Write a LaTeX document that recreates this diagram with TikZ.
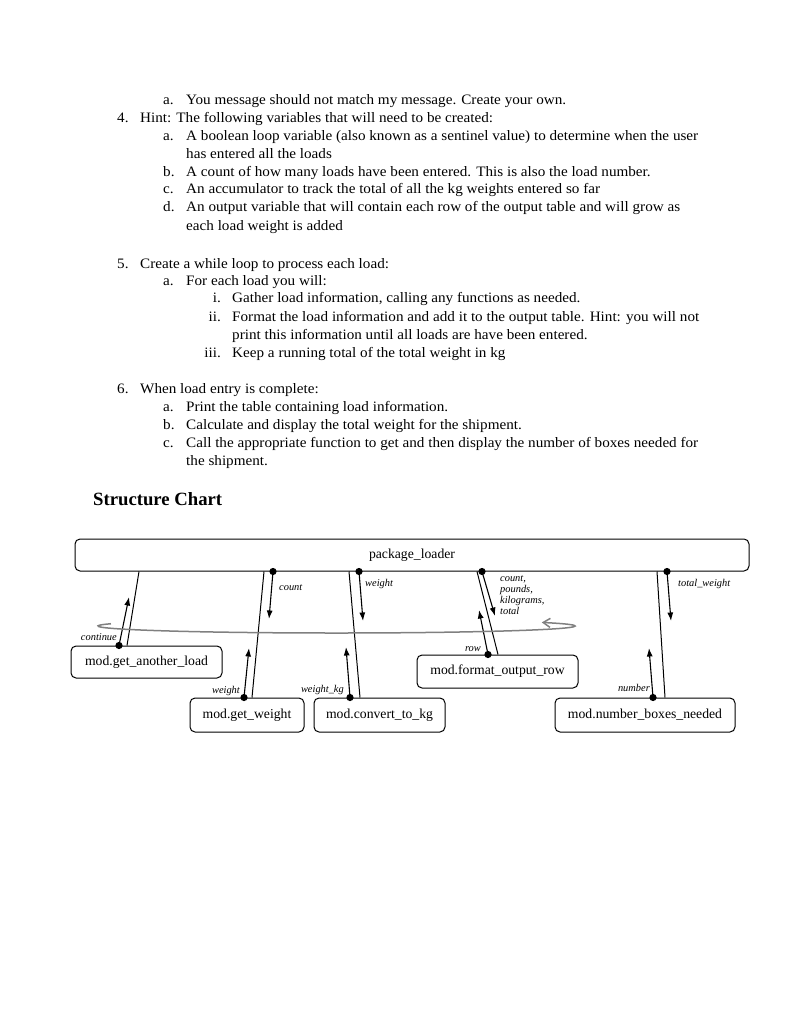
\documentclass[tikz,border=0pt]{standalone}
\usepackage{fontspec}
\setmainfont{Liberation Serif}
\newfontfamily\bodyfont{Liberation Serif}[FakeStretch=1.053]
\usetikzlibrary{arrows.meta}
\begin{document}
\begin{tikzpicture}[x=1pt,y=-1pt,
  txt/.style={anchor=base west, inner sep=0pt, font=\bodyfont\fontsize{14.4}{17}\selectfont},
  rnum/.style={anchor=base east, inner sep=0pt, font=\bodyfont\fontsize{14.4}{17}\selectfont},
  module/.style={draw, line width=1pt, rounded corners=5pt, inner sep=0pt, font=\fontsize{13.7}{16}\selectfont},
  conn/.style={line width=1pt},
  flow/.style={line width=1.1pt, -{Latex[length=8.5pt,width=6pt]}},
  lab/.style={inner sep=0pt, font=\itshape\fontsize{10.4}{11}\selectfont},
  dotc/.style={fill=black}
]
\useasboundingbox[fill=white] (0,0) rectangle (791,1024);

% ---------- text ----------
\node[txt] (a0) at (163,105) {a.};
\node[txt] (a0t) at (186,105) {You message should not match my message. Create your own.};
\node[txt] (n4) at (117,123) {4.};
\node[txt] (n4t) at (140,123) {Hint: The following variables that will need to be created:};
\node[txt] (a4) at (163,141) {a.};
\node[txt] (a4t) at (186,141) {A boolean loop variable (also known as a sentinel value) to determine when the user};
\node[txt] (a4u) at (186,159) {has entered all the loads};
\node[txt] (b4) at (163,177) {b.};
\node[txt] (b4t) at (186,177) {A count of how many loads have been entered. This is also the load number.};
\node[txt] (c4) at (163,194) {c.};
\node[txt] (c4t) at (186,194) {An accumulator to track the total of all the kg weights entered so far};
\node[txt] (d4) at (163,212) {d.};
\node[txt] (d4t) at (186,212) {An output variable that will contain each row of the output table and will grow as};
\node[txt] (d4u) at (186,230) {each load weight is added};

\node[txt] (n5) at (117,268) {5.};
\node[txt] (n5t) at (140,268) {Create a while loop to process each load:};
\node[txt] (a5) at (163,285) {a.};
\node[txt] (a5t) at (186,285) {For each load you will:};
\node[rnum] (i5) at (221,302) {i.};
\node[txt] (i5t) at (232,302) {Gather load information, calling any functions as needed.};
\node[rnum] (ii5) at (221,321) {ii.};
\node[txt] (ii5t) at (232,321) {Format the load information and add it to the output table. Hint: you will not};
\node[txt] (ii5u) at (232,339) {print this information until all loads are have been entered.};
\node[rnum] (iii5) at (221,357) {iii.};
\node[txt] (iii5t) at (232,357) {Keep a running total of the total weight in kg};

\node[txt] (n6) at (117,393) {6.};
\node[txt] (n6t) at (140,393) {When load entry is complete:};
\node[txt] (a6) at (163,411) {a.};
\node[txt] (a6t) at (186,411) {Print the table containing load information.};
\node[txt] (b6) at (163,429) {b.};
\node[txt] (b6t) at (186,429) {Calculate and display the total weight for the shipment.};
\node[txt] (c6) at (163,447) {c.};
\node[txt] (c6t) at (186,447) {Call the appropriate function to get and then display the number of boxes needed for};
\node[txt] (c6u) at (186,465) {the shipment.};

\node[anchor=base west, inner sep=0pt, font=\bfseries\fontsize{18.7}{21}\selectfont] (head) at (93,505) {Structure Chart};

% ---------- chart ----------
\node[module, minimum width=674pt, minimum height=32pt] (pl) at (412,555) {package\_loader};
\node[module, minimum width=151pt, minimum height=32pt] (gal) at (146.5,662) {mod.get\_another\_load};
\node[module, minimum width=114pt, minimum height=34pt] (gw) at (247,715) {mod.get\_weight};
\node[module, minimum width=131pt, minimum height=34pt] (ck) at (379.5,715) {mod.convert\_to\_kg};
\node[module, minimum width=161pt, minimum height=33pt] (fo) at (497.5,671.5) {mod.format\_output\_row};
\node[module, minimum width=180pt, minimum height=34pt] (nb) at (645,715) {mod.number\_boxes\_needed};

% connector lines
\draw[conn] (pl.south -| 139,0) -- (gal.north -| 127,0);
\draw[conn] (pl.south -| 264,0) -- (gw.north -| 252,0);
\draw[conn] (pl.south -| 349,0) -- (ck.north -| 360,0);
\draw[conn] (pl.south -| 477,0) -- (fo.north -| 498,0);
\draw[conn] (pl.south -| 657,0) -- (nb.north -| 665,0);

% data couples
\coordinate (d1) at (gal.north -| 119,0);  \coordinate (e1) at (129,597);
\coordinate (d2) at (pl.south -| 273,0);   \coordinate (e2) at (269,619);
\coordinate (d3) at (gw.north -| 244,0);   \coordinate (e3) at (249,648);
\coordinate (d4) at (pl.south -| 359,0);   \coordinate (e4) at (363,621);
\coordinate (d5) at (ck.north -| 350,0);   \coordinate (e5) at (346,647);
\coordinate (d6) at (pl.south -| 482,0);   \coordinate (e6) at (495,616);
\coordinate (d7) at (fo.north -| 488,0);   \coordinate (e7) at (479,610);
\coordinate (d8) at (pl.south -| 667,0);   \coordinate (e8) at (671,621);
\coordinate (d9) at (nb.north -| 653,0);   \coordinate (e9) at (649,648);

\foreach \i in {1,...,9}{
  \draw[flow] (d\i) -- (e\i);
  \fill[dotc] (d\i) circle (3.6pt);
}

% labels
\node[lab, anchor=base east] (lcont) at (117,640) {continue};
\node[lab, anchor=base west] (lcount) at (279,590) {count};
\node[lab, anchor=base east] (lw1) at (240,693) {weight};
\node[lab, anchor=base west] (lw2) at (365,586) {weight};
\node[lab, anchor=base east] (lwkg) at (344,692) {weight\_kg};
\node[lab, anchor=north west, align=left, font=\itshape\fontsize{10.4}{11}\selectfont] (lcpk) at (500,575.5) {count,\\pounds,\\kilograms,\\total};
\node[lab, anchor=base east] (lrow) at (481,651) {row};
\node[lab, anchor=base west] (ltw) at (678,586) {total\_weight};
\node[lab, anchor=base east] (lnum) at (650,691) {number};

% loop symbol
\draw[black!50, line width=1.5pt, -{Straight Barb[length=7pt,width=9pt]}]
  (336.5,626) ++(199:238.5 and 7) arc[start angle=199, end angle=-30.6, x radius=238.5, y radius=7];
\end{tikzpicture}
\end{document}
